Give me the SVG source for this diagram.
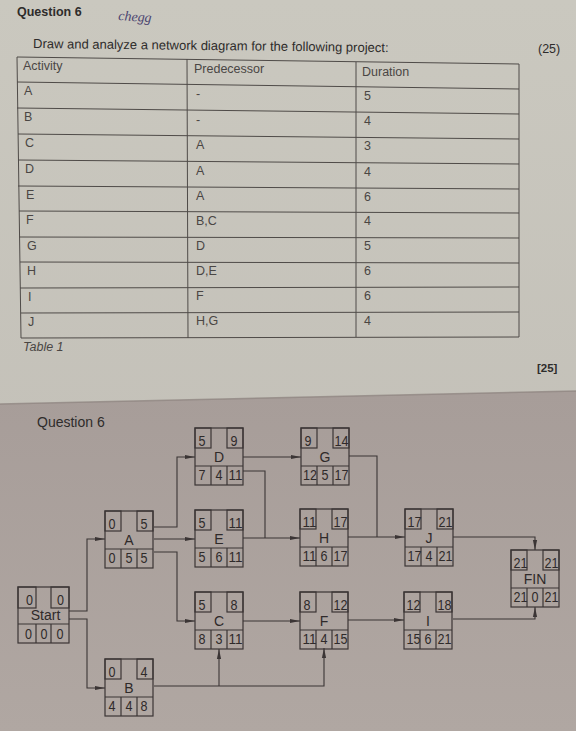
<svg xmlns="http://www.w3.org/2000/svg" width="576" height="731" viewBox="0 0 576 731">
<defs>
<linearGradient id="pg1" x1="0" y1="0" x2="0" y2="1">
<stop offset="0" stop-color="#cac8bf"/>
<stop offset="0.7" stop-color="#c3c0b8"/>
<stop offset="1" stop-color="#b5aea8"/>
</linearGradient>
<linearGradient id="pg2" x1="0" y1="0" x2="0" y2="1">
<stop offset="0" stop-color="#a79d99"/>
<stop offset="1" stop-color="#b0a7a2"/>
</linearGradient>
<marker id="arr" markerUnits="userSpaceOnUse" markerWidth="11" markerHeight="6" refX="10" refY="3" orient="auto">
<path d="M0,0.9 L10,3 L0,5.1 z" fill="#3b3535"/>
</marker>
<g id="frame" class="box">
<rect width="48" height="57"/>
<rect width="16" height="20"/>
<rect x="32" width="16" height="20"/>
<path d="M0,38 H48 M16,38 V57 M32,38 V57"/>
</g>
</defs>
<style>
.box{fill:none;stroke:#3b3535;stroke-width:1.2}
.ln{fill:none;stroke:#3b3535;stroke-width:1.1}
.num{font-family:"Liberation Sans",Arial,sans-serif;font-size:14.5px;fill:#2f2a2a}
.lbl{font-family:"Liberation Sans",Arial,sans-serif;font-size:14px;fill:#2f2a2a;text-anchor:middle}
.tl{stroke:#4f4b48;stroke-width:1}
.tt{font-family:"Liberation Sans",Arial,sans-serif;font-size:12.5px;fill:#4a4644}
.hd{font-family:"Liberation Sans",Arial,sans-serif;fill:#2e2c2b}
</style>

<!-- pages -->
<rect width="576" height="731" fill="url(#pg1)"/>
<polygon points="0,404 576,391 576,731 0,731" fill="url(#pg2)"/>
<line x1="0" y1="404" x2="576" y2="391" stroke="#8c827e" stroke-width="1.5" opacity="0.7"/>

<!-- header -->
<g id="header">
<text class="hd" x="17" y="16" font-size="12.5" font-weight="bold">Question 6</text>
<text x="118" y="20" font-family="Liberation Serif,serif" font-style="italic" font-size="14" fill="#4a4470" transform="rotate(4 118 20)">chegg</text>
<text class="hd" x="33" y="48" font-size="13" transform="rotate(0.65 33 48)">Draw and analyze a network diagram for the following project:</text>
<text class="hd" x="538" y="53" font-size="12.5">(25)</text>
</g>

<!-- table -->
<g id="table">
<line class="tl" x1="17" y1="57" x2="519" y2="64"/>
<line class="tl" x1="17" y1="82" x2="519" y2="89"/>
<line class="tl" x1="17" y1="108" x2="519" y2="114"/>
<line class="tl" x1="18" y1="134" x2="519" y2="139"/>
<line class="tl" x1="18" y1="160" x2="519" y2="164"/>
<line class="tl" x1="18" y1="186" x2="519" y2="189"/>
<line class="tl" x1="19" y1="211" x2="519" y2="213"/>
<line class="tl" x1="19" y1="237" x2="519" y2="238"/>
<line class="tl" x1="20" y1="262" x2="519" y2="263"/>
<line class="tl" x1="20" y1="288" x2="519" y2="287"/>
<line class="tl" x1="21" y1="313" x2="519" y2="312"/>
<line class="tl" x1="21" y1="338" x2="519" y2="337"/>
<line class="tl" x1="17" y1="57" x2="21" y2="338"/>
<line class="tl" x1="187" y1="59" x2="188" y2="338"/>
<line class="tl" x1="356" y1="62" x2="356" y2="337"/>
<line class="tl" x1="519" y1="64" x2="519" y2="337"/>
<text class="tt" x="23" y="70">Activity</text>
<text class="tt" x="194" y="73">Predecessor</text>
<text class="tt" x="362" y="76">Duration</text>
<text class="tt" x="24" y="95">A</text><text class="tt" x="196" y="98">-</text><text class="tt" x="364" y="100">5</text>
<text class="tt" x="24" y="121">B</text><text class="tt" x="196" y="124">-</text><text class="tt" x="364" y="125">4</text>
<text class="tt" x="25" y="147">C</text><text class="tt" x="196" y="149">A</text><text class="tt" x="364" y="150">3</text>
<text class="tt" x="25" y="173">D</text><text class="tt" x="196" y="175">A</text><text class="tt" x="364" y="176">4</text>
<text class="tt" x="26" y="199">E</text><text class="tt" x="196" y="200">A</text><text class="tt" x="364" y="201">6</text>
<text class="tt" x="26" y="224">F</text><text class="tt" x="196" y="225">B,C</text><text class="tt" x="364" y="225">4</text>
<text class="tt" x="27" y="250">G</text><text class="tt" x="196" y="250">D</text><text class="tt" x="364" y="250">5</text>
<text class="tt" x="27" y="275">H</text><text class="tt" x="196" y="275">D,E</text><text class="tt" x="364" y="275">6</text>
<text class="tt" x="28" y="301">I</text><text class="tt" x="196" y="300">F</text><text class="tt" x="364" y="300">6</text>
<text class="tt" x="28" y="326">J</text><text class="tt" x="196" y="325">H,G</text><text class="tt" x="364" y="325">4</text>
<text class="tt" x="23" y="351" font-size="11.5" font-style="italic">Table 1</text>
<text class="hd" x="537" y="372" font-size="11.5" font-weight="bold">[25]</text>
</g>

<text class="hd" x="37" y="427" font-size="14" fill="#383433">Question 6</text>

<!-- connectors -->
<g id="connectors">
<path class="ln" d="M69,611 H87 V539 H105" marker-end="url(#arr)"/>
<path class="ln" d="M69,619 H87 V688 H105" marker-end="url(#arr)"/>
<path class="ln" d="M154,527 H177 V457 H195" marker-end="url(#arr)"/>
<path class="ln" d="M154,539 H195" marker-end="url(#arr)"/>
<path class="ln" d="M154,552 H177 V621 H195" marker-end="url(#arr)"/>
<path class="ln" d="M243,457 H301" marker-end="url(#arr)"/>
<path class="ln" d="M243,471 H265 V538"/>
<path class="ln" d="M243,538 H300" marker-end="url(#arr)"/>
<path class="ln" d="M349,456 H377 V537"/>
<path class="ln" d="M348,537 H405" marker-end="url(#arr)"/>
<path class="ln" d="M453,537 H535 V550" marker-end="url(#arr)"/>
<path class="ln" d="M154,686 H324 V648" marker-end="url(#arr)"/>
<path class="ln" d="M219,686 V649" marker-end="url(#arr)"/>
<path class="ln" d="M243,621 H300" marker-end="url(#arr)"/>
<path class="ln" d="M348,620 H404" marker-end="url(#arr)"/>
<path class="ln" d="M453,619 H535 V607" marker-end="url(#arr)"/>
</g>

<!-- nodes -->
<g id="node-start" transform="translate(18,587)">
<g class="box"><rect width="51" height="56"/><rect width="18" height="21"/><rect x="33" width="18" height="21"/><path d="M0,37 H51 M18,37 V56 M33,37 V56"/></g>
<text class="num" x="8" y="17.5" textLength="7" lengthAdjust="spacingAndGlyphs">0</text><text class="num" x="39" y="17.5" textLength="7" lengthAdjust="spacingAndGlyphs">0</text>
<text class="lbl" x="27.5" y="33" font-size="14.5">Start</text>
<text class="num" x="7" y="51.5" textLength="7" lengthAdjust="spacingAndGlyphs">0</text><text class="num" x="22.5" y="51.5" textLength="7" lengthAdjust="spacingAndGlyphs">0</text><text class="num" x="38.5" y="51.5" textLength="7" lengthAdjust="spacingAndGlyphs">0</text>
</g>
<g id="node-A" transform="translate(105,511)">
<use href="#frame"/>
<text class="num" x="3.5" y="17.5" textLength="7" lengthAdjust="spacingAndGlyphs">0</text><text class="num" x="35.5" y="17.5" textLength="7" lengthAdjust="spacingAndGlyphs">5</text>
<text class="lbl" x="24" y="34">A</text>
<text class="num" x="3.5" y="51.5" textLength="7" lengthAdjust="spacingAndGlyphs">0</text><text class="num" x="20.5" y="51.5" textLength="7" lengthAdjust="spacingAndGlyphs">5</text><text class="num" x="35.5" y="51.5" textLength="7" lengthAdjust="spacingAndGlyphs">5</text>
</g>
<g id="node-B" transform="translate(105,659)">
<use href="#frame"/>
<text class="num" x="3.5" y="17.5" textLength="7" lengthAdjust="spacingAndGlyphs">0</text><text class="num" x="35.5" y="17.5" textLength="7" lengthAdjust="spacingAndGlyphs">4</text>
<text class="lbl" x="24" y="34">B</text>
<text class="num" x="3.5" y="51.5" textLength="7" lengthAdjust="spacingAndGlyphs">4</text><text class="num" x="20.5" y="51.5" textLength="7" lengthAdjust="spacingAndGlyphs">4</text><text class="num" x="35.5" y="51.5" textLength="7" lengthAdjust="spacingAndGlyphs">8</text>
</g>
<g id="node-D" transform="translate(195,428)">
<use href="#frame"/>
<text class="num" x="3.5" y="17.5" textLength="7" lengthAdjust="spacingAndGlyphs">5</text><text class="num" x="35.5" y="17.5" textLength="7" lengthAdjust="spacingAndGlyphs">9</text>
<text class="lbl" x="24" y="34">D</text>
<text class="num" x="3.5" y="51.5" textLength="7" lengthAdjust="spacingAndGlyphs">7</text><text class="num" x="20.5" y="51.5" textLength="7" lengthAdjust="spacingAndGlyphs">4</text><text class="num" x="33.5" y="51.5" textLength="14" lengthAdjust="spacingAndGlyphs">11</text>
</g>
<g id="node-E" transform="translate(195,510)">
<use href="#frame"/>
<text class="num" x="3.5" y="17.5" textLength="7" lengthAdjust="spacingAndGlyphs">5</text><text class="num" x="33.5" y="17.5" textLength="14" lengthAdjust="spacingAndGlyphs">11</text>
<text class="lbl" x="24" y="34">E</text>
<text class="num" x="3.5" y="51.5" textLength="7" lengthAdjust="spacingAndGlyphs">5</text><text class="num" x="20.5" y="51.5" textLength="7" lengthAdjust="spacingAndGlyphs">6</text><text class="num" x="33.5" y="51.5" textLength="14" lengthAdjust="spacingAndGlyphs">11</text>
</g>
<g id="node-C" transform="translate(195,592)">
<use href="#frame"/>
<text class="num" x="3.5" y="17.5" textLength="7" lengthAdjust="spacingAndGlyphs">5</text><text class="num" x="35.5" y="17.5" textLength="7" lengthAdjust="spacingAndGlyphs">8</text>
<text class="lbl" x="24" y="34">C</text>
<text class="num" x="3.5" y="51.5" textLength="7" lengthAdjust="spacingAndGlyphs">8</text><text class="num" x="20.5" y="51.5" textLength="7" lengthAdjust="spacingAndGlyphs">3</text><text class="num" x="33.5" y="51.5" textLength="14" lengthAdjust="spacingAndGlyphs">11</text>
</g>
<g id="node-G" transform="translate(301,428)">
<use href="#frame"/>
<text class="num" x="3.5" y="17.5" textLength="7" lengthAdjust="spacingAndGlyphs">9</text><text class="num" x="33.5" y="17.5" textLength="14" lengthAdjust="spacingAndGlyphs">14</text>
<text class="lbl" x="24" y="34">G</text>
<text class="num" x="2" y="51.5" textLength="14" lengthAdjust="spacingAndGlyphs">12</text><text class="num" x="20.5" y="51.5" textLength="7" lengthAdjust="spacingAndGlyphs">5</text><text class="num" x="33.5" y="51.5" textLength="14" lengthAdjust="spacingAndGlyphs">17</text>
</g>
<g id="node-H" transform="translate(300,509)">
<use href="#frame"/>
<text class="num" x="2.5" y="17.5" textLength="14" lengthAdjust="spacingAndGlyphs">11</text><text class="num" x="33.5" y="17.5" textLength="14" lengthAdjust="spacingAndGlyphs">17</text>
<text class="lbl" x="24" y="34">H</text>
<text class="num" x="2.5" y="51.5" textLength="14" lengthAdjust="spacingAndGlyphs">11</text><text class="num" x="20.5" y="51.5" textLength="7" lengthAdjust="spacingAndGlyphs">6</text><text class="num" x="33.5" y="51.5" textLength="14" lengthAdjust="spacingAndGlyphs">17</text>
</g>
<g id="node-F" transform="translate(300,592)">
<use href="#frame"/>
<text class="num" x="3.5" y="17.5" textLength="7" lengthAdjust="spacingAndGlyphs">8</text><text class="num" x="33.5" y="17.5" textLength="14" lengthAdjust="spacingAndGlyphs">12</text>
<text class="lbl" x="24" y="34">F</text>
<text class="num" x="2.5" y="51.5" textLength="14" lengthAdjust="spacingAndGlyphs">11</text><text class="num" x="20.5" y="51.5" textLength="7" lengthAdjust="spacingAndGlyphs">4</text><text class="num" x="33.5" y="51.5" textLength="14" lengthAdjust="spacingAndGlyphs">15</text>
</g>
<g id="node-J" transform="translate(405,509)">
<use href="#frame"/>
<text class="num" x="2.5" y="17.5" textLength="14" lengthAdjust="spacingAndGlyphs">17</text><text class="num" x="33.5" y="17.5" textLength="14" lengthAdjust="spacingAndGlyphs">21</text>
<text class="lbl" x="24" y="34">J</text>
<text class="num" x="2.5" y="51.5" textLength="14" lengthAdjust="spacingAndGlyphs">17</text><text class="num" x="20.5" y="51.5" textLength="7" lengthAdjust="spacingAndGlyphs">4</text><text class="num" x="33.5" y="51.5" textLength="14" lengthAdjust="spacingAndGlyphs">21</text>
</g>
<g id="node-I" transform="translate(404,592)">
<use href="#frame"/>
<text class="num" x="2.5" y="17.5" textLength="14" lengthAdjust="spacingAndGlyphs">12</text><text class="num" x="33.5" y="17.5" textLength="14" lengthAdjust="spacingAndGlyphs">18</text>
<text class="lbl" x="24" y="34" font-family="Liberation Serif,serif" font-size="15">I</text>
<text class="num" x="2.5" y="51.5" textLength="14" lengthAdjust="spacingAndGlyphs">15</text><text class="num" x="20.5" y="51.5" textLength="7" lengthAdjust="spacingAndGlyphs">6</text><text class="num" x="33.5" y="51.5" textLength="14" lengthAdjust="spacingAndGlyphs">21</text>
</g>
<g id="node-FIN" transform="translate(511,550)">
<use href="#frame"/>
<text class="num" x="2.5" y="17.5" textLength="14" lengthAdjust="spacingAndGlyphs">21</text><text class="num" x="33.5" y="17.5" textLength="14" lengthAdjust="spacingAndGlyphs">21</text>
<text class="lbl" x="24" y="34" font-size="13.5">FIN</text>
<text class="num" x="2.5" y="51.5" textLength="14" lengthAdjust="spacingAndGlyphs">21</text><text class="num" x="20.5" y="51.5" textLength="7" lengthAdjust="spacingAndGlyphs">0</text><text class="num" x="33.5" y="51.5" textLength="14" lengthAdjust="spacingAndGlyphs">21</text>
</g>
</svg>
